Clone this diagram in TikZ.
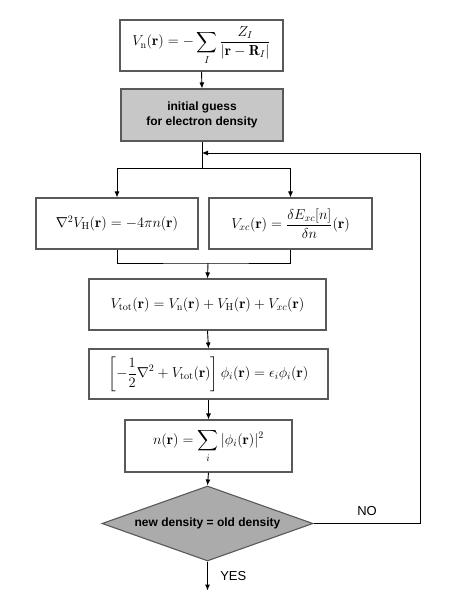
\documentclass[tikz,border=0pt]{standalone}
\usepackage{amsmath}
\usepackage{amssymb}
\usepackage{fontspec}
\newfontfamily\arialfont{Liberation Sans}
\usetikzlibrary{shapes.geometric,arrows.meta}

\begin{document}
\begin{tikzpicture}[x=1pt,y=-1pt,
        box/.style={draw=black!65,line width=1.1pt,fill=white,inner sep=0pt,font=\fontsize{14.5}{17}\selectfont},
        guessbox/.style={box,fill=black!22,font=\arialfont\bfseries\fontsize{12}{14.5}\selectfont,align=center},
        decision/.style={diamond,aspect=2.81,draw=black!65,line width=1.1pt,fill=black!33,inner sep=0pt,
            minimum width=211pt,minimum height=75pt,font=\arialfont\bfseries\fontsize{12}{14}\selectfont},
        tag/.style={font=\arialfont\fontsize{13}{15}\selectfont},
        arr/.style={-{Latex[length=6pt,width=5pt]},line width=0.9pt},
        lnk/.style={line width=0.9pt}]
    \useasboundingbox (0,0) rectangle (461,605);
    % boxes
    \node[box,minimum width=163pt,minimum height=51pt] (vn) at (201.5,45.5)
        {$\displaystyle V_{\mathrm{n}}(\mathbf{r}) = -\sum_I \frac{Z_I}{|\mathbf{r}-\mathbf{R}_I|}$};
    \node[guessbox,minimum width=162pt,minimum height=52pt] (guess) at (202,115)
        {initial guess\\for electron density};
    \node[box,minimum width=162pt,minimum height=51pt] (vh) at (117,223.5)
        {$\nabla^2 V_{\mathrm{H}}(\mathbf{r}) = -4\pi n(\mathbf{r})$};
    \node[box,minimum width=163pt,minimum height=51pt] (vxc) at (290.5,223.5)
        {$\displaystyle V_{xc}(\mathbf{r}) = \frac{\delta E_{xc}[n]}{\delta n}(\mathbf{r})$};
    \node[box,minimum width=237pt,minimum height=51pt] (vtot) at (207.5,304.5)
        {$V_{\mathrm{tot}}(\mathbf{r}) = V_{\mathrm{n}}(\mathbf{r}) + V_{\mathrm{H}}(\mathbf{r}) + V_{xc}(\mathbf{r})$};
    \node[box,minimum width=239pt,minimum height=50pt] (ks) at (208.5,374)
        {$\displaystyle \left[-\frac{1}{2}\nabla^2 + V_{\mathrm{tot}}(\mathbf{r})\right]\phi_i(\mathbf{r}) = \epsilon_i\phi_i(\mathbf{r})$};
    \node[box,minimum width=167pt,minimum height=52pt] (dens) at (208.5,446)
        {$\displaystyle n(\mathbf{r}) = \sum_i |\phi_i(\mathbf{r})|^2$};
    \node[decision] (conv) at (207.5,523.5) {new density = old density};
    % junctions
    \coordinate (loop) at (202,153);
    \coordinate (split) at (202,168);
    \coordinate (merge) at (208,263);
    % connectors
    \draw[arr] (vn.south) -- (guess.north);
    \draw[lnk] (guess.south) -- (split);
    \draw[arr] (split) -| (vh.north);
    \draw[arr] (split) -| (vxc.north);
    \draw[lnk] (vh.south) |- (merge) -| (vxc.south);
    \draw[arr] (merge) -- (vtot.north);
    \draw[arr] (vtot.south) -- (ks.north);
    \draw[arr] (ks.south) -- (dens.north);
    \draw[arr] (dens.south) -- (conv.north);
    \draw[arr] (conv.east) -- node[tag,above=4pt]{NO} ++(107,0) |- (loop);
    \draw[arr] (conv.south) -- node[tag,right=9pt]{YES} ++(0,29);
\end{tikzpicture}
\end{document}
